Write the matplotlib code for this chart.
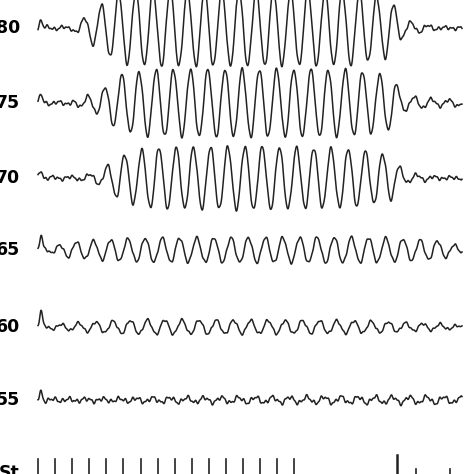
import matplotlib.pyplot as plt
import numpy as np

labels = ["80", "75", "70", "65", "60", "55"]
baselines = [28, 103, 178, 250, 327, 400]
# envelope keypoints (x in px, amplitude in px)
env_x = [38, 70, 85, 100, 120, 150, 250, 350, 390, 405, 440, 462]
env_amp = {
    "80": [0, 0, 10, 22, 35, 38, 38, 38, 30, 8, 2, 2],
    "75": [0, 0, 6, 12, 28, 33, 33, 32, 26, 6, 2, 2],
    "70": [0, 0, 2, 6, 22, 30, 32, 30, 24, 6, 2, 2],
    "65": [0, 8, 9, 10, 11, 12, 12, 12, 11, 10, 8, 2],
    "60": [0, 3, 4, 5, 6, 7, 7, 7, 6, 5, 4, 2],
    "55": [0, 1, 1, 1, 1, 2, 2, 2, 2, 2, 2, 1],
}
noise_amp = [2.5, 2.5, 2.5, 2, 2, 3]
period = 17.2
stim_x = [38 + 17.1 * i for i in range(16)]
stim_tall_x = 397
stim_small_x = [416, 450]
st_y = 465

fig = plt.figure(figsize=(4.74, 4.74), dpi=100)
ax = fig.add_axes([0, 0, 1, 1])
ax.set_xlim(0, 474)
ax.set_ylim(474, 0)
ax.axis("off")

x = np.linspace(38, 462, 1500)
for k, (lab, y0) in enumerate(zip(labels, baselines)):
    amp = np.interp(x, env_x, env_amp[lab])
    wig = noise_amp[k] * (np.sin(x * 0.9 + k) * 0.5 + np.sin(x * 0.37 + 2 * k) * 0.5
                          + 0.3 * np.sin(x * 1.7 + k))
    y = y0 - amp * np.sin(2 * np.pi * (x - 80 - k * 3) / period) + wig
    # onset transient spike
    y -= 10 * np.exp(-((x - 41) / 2.0) ** 2) * (1.5 if lab in ("65", "60") else 0.8)
    ax.plot(x, y, color="#222222", lw=1.1)
    ax.text(20, y0, lab, fontsize=12.5, fontweight="bold", ha="right", va="center")

for sx in stim_x:
    ax.plot([sx, sx], [st_y - 6, st_y + 10], color="#222222", lw=1.2)
ax.plot([stim_tall_x, stim_tall_x], [st_y - 10, st_y + 10], color="#222222", lw=1.8)
for sx in stim_small_x:
    ax.plot([sx, sx], [st_y + 4, st_y + 10], color="#222222", lw=1.2)
ax.text(20, st_y + 8, "St", fontsize=12.5, fontweight="bold", ha="right", va="center")

fig.savefig("out.png", dpi=100)
